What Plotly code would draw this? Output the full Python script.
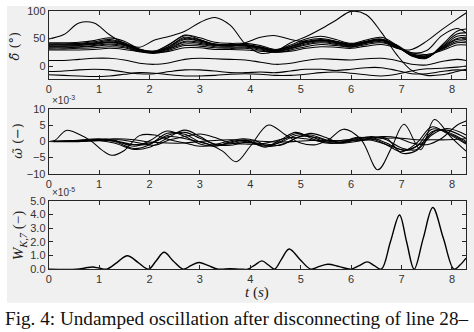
import plotly.graph_objects as go

# ---------------- rotor angle deviations (degrees) ----------------
t_delta = [0.0, 0.3, 0.6, 0.9, 1.2, 1.5, 1.8, 2.1, 2.4, 2.7, 3.0, 3.3, 3.6, 3.9, 4.2,
           4.5, 4.8, 5.1, 5.4, 5.7, 6.0, 6.3, 6.6, 6.9, 7.2, 7.5, 7.8, 8.1, 8.28]

delta_a = [49, 57, 78, 78, 57, 41, 34, 47, 54, 63, 79, 88, 74, 40, 23,
           27, 42, 53, 67, 83, 99, 93, 61, 21, -8, -17, -16, -10, -6]
delta_c = [38, 38, 39, 41, 44, 40, 30, 26, 36, 50, 46, 40, 38, 38, 34,
           29, 35, 43, 47, 43, 38, 44, 47, 32, 30, 45, 66, 85, 96]
delta_b1 = [42, 42, 43, 46, 51, 45, 31, 27, 39, 56, 51, 43, 41, 41, 37,
            30, 38, 49, 54, 48, 41, 47, 52, 38, 18, 14, 38, 63, 67]
delta_b2 = [40, 40, 40, 42, 46, 41, 29, 25, 36, 52, 47, 40, 39, 39, 35,
            29, 36, 46, 50, 45, 39, 45, 49, 37, 19, 15, 36, 58, 60]
delta_b3 = [38, 38, 38, 40, 43, 39, 28, 24, 34, 48, 45, 39, 38, 38, 34,
            28, 35, 44, 48, 44, 38, 44, 48, 37, 19, 16, 34, 54, 55]
delta_b4 = [36, 36, 37, 39, 42, 38, 28, 25, 33, 45, 43, 38, 37, 37, 33,
            27, 33, 42, 46, 42, 37, 43, 47, 36, 20, 16, 33, 50, 52]
delta_b5 = [35, 35, 35, 37, 40, 37, 28, 25, 32, 43, 41, 37, 36, 36, 32,
            27, 32, 40, 44, 41, 36, 42, 46, 35, 20, 17, 32, 48, 48]
delta_b6 = [33, 33, 34, 36, 38, 35, 27, 24, 31, 40, 39, 35, 34, 34, 31,
            26, 31, 38, 42, 39, 35, 41, 44, 35, 21, 18, 31, 45, 45]
delta_b7 = [31, 31, 32, 33, 35, 33, 26, 23, 29, 37, 36, 33, 32, 32, 29,
            25, 29, 35, 39, 37, 34, 39, 42, 34, 22, 19, 30, 42, 42]
delta_b8 = [29, 29, 29, 30, 32, 30, 26, 24, 27, 33, 33, 30, 30, 29, 27,
            25, 27, 32, 35, 34, 32, 36, 39, 33, 24, 21, 28, 38, 38]
delta_b9 = [40, 40, 41, 44, 48, 42, 30, 27, 40, 55, 48, 38, 36, 42, 52,
            55, 48, 44, 46, 44, 40, 44, 48, 38, 24, 28, 55, 68, 60]
delta_l1 = [10, 10, 12, 14, 14, 11, 5, 3, 6, 12, 14, 13, 12, 11, 7,
            3, 5, 10, 13, 12, 11, 13, 14, 10, 3, 2, 8, 12, 10]
delta_l2 = [-10, -9, -7, -6, -7, -11, -14, -14, -10, -7, -7, -9, -12, -12, -11,
            -12, -9, -6, -6, -8, -6, -3, -3, -8, -14, -14, -10, -7, -8]
delta_l3 = [-16, -17, -18, -19, -18, -15, -12, -13, -16, -18, -18, -17, -15, -14, -15,
            -17, -17, -15, -12, -11, -13, -16, -18, -15, -9, -5, -4, -2, 0]

delta_series = [delta_a, delta_c, delta_b1, delta_b2, delta_b3, delta_b4, delta_b5,
                delta_b6, delta_b7, delta_b8, delta_b9, delta_l1, delta_l2, delta_l3]

# ---------------- speed deviations (x 1e-3) ----------------
omega_t1 = [0, 0.12, 0.35, 0.6, 0.85, 1.05, 1.25, 1.5, 1.8, 2.1, 2.4, 2.7, 3.0, 3.3, 3.6,
            3.85, 4.1, 4.35, 4.7, 5.0, 5.3, 5.6, 5.9, 6.2, 6.5, 6.8, 7.1, 7.4, 7.7, 8.0, 8.28]
omega_v1 = [0, 0.3, 3.4, 2.2, 0, -2.6, -4.3, -2.8, 1.8, 2.0, 0.5, -0.5, -1.5, -1.0, 0.2,
            0.8, 0.3, -1.5, -0.5, 1.5, 1.2, 0, 0.5, 0.8, 0, -1.5, -2.8, -0.5, 3.5, 2.0, -0.5]

omega_t2 = [0, 0.8, 1.2, 1.6, 2.0, 2.4, 2.8, 3.2, 3.45, 3.72, 4.0, 4.36, 4.7, 5.0, 5.3,
            5.55, 5.85, 6.2, 6.53, 6.8, 7.05, 7.38, 7.65, 7.97, 8.28]
omega_v2 = [0, 0.2, 0.6, -1.0, -0.5, 1.5, 0.5, -1.0, -3.0, -6.3, -1.5, 5.1, 2.0, -0.5, -1.0,
            0.5, 3.8, 0.5, -8.8, -2.0, 5.3, -2.6, 6.8, 1.5, -3.0]

omega_t3 = [0, 0.5, 1.0, 1.3, 1.7, 2.0, 2.35, 2.7, 3.0, 3.3, 3.6, 3.9, 4.3, 4.6, 4.9,
            5.2, 5.5, 5.8, 6.1, 6.4, 6.7, 7.0, 7.3, 7.6, 7.9, 8.28]
omega_v3 = [0, 0.3, 0.8, 0.3, -1.5, 0.2, 3.2, 1.5, -0.8, -1.5, -0.2, 0.5, -1.5, 0.5, 2.8,
            1.0, -0.5, -0.3, 1.2, 0.8, -1.0, -3.2, -0.5, 4.5, 2.5, -0.8]
omega_v4 = [0, 0.2, 0.6, 0.0, -2.2, -1.0, 2.5, 2.2, -0.2, -1.2, -0.5, 0.3, -1.8, 0.0, 2.4,
            1.5, -0.2, -0.5, 1.0, 1.2, -0.5, -2.6, -1.5, 3.8, 3.0, 0.0]
omega_v5 = [0, 0.1, 0.4, 0.2, -1.0, -0.8, 1.8, 2.8, 1.0, -0.8, -0.8, 0.0, -1.2, -0.3, 1.8,
            2.0, 0.5, -0.5, 0.5, 1.5, 0.5, -2.0, -2.5, 3.0, 3.5, 1.0]
omega_v7 = [0, -0.1, 0.2, -0.5, -2.5, -1.8, 1.0, 3.5, 1.5, -1.0, -1.2, -0.3, -0.8, -1.2, 1.0,
            2.5, 1.2, -0.5, 0.0, 1.0, 1.0, -3.6, -2.8, 2.0, 4.0, 2.0]
omega_v8 = [0, 0.1, 0.5, 0.8, 0.5, -0.2, -0.5, -0.5, 0.0, 0.3, 0.5, 0.3, 0.0, -0.2, 0.0,
            0.3, 0.3, 0.2, 0.2, 0.5, 1.0, 1.0, 0.5, 0.5, 0.5, 0.8]

omega_t6 = [0, 0.5, 1.0, 1.4, 1.8, 2.1, 2.4, 2.7, 3.0, 3.3, 3.6, 3.9, 4.2, 4.5, 4.8,
            5.1, 5.4, 5.7, 6.0, 6.3, 6.6, 6.9, 7.2, 7.5, 7.8, 8.1, 8.28]
omega_v6 = [0, 0.0, 0.3, 0.5, -0.5, -1.2, 0.5, 1.5, 2.3, 1.2, -0.5, -0.8, -0.8, 0.2, 1.2,
            0.8, 0.0, -0.2, 0.2, 0.8, 1.5, 1.2, -0.5, -1.0, 1.0, 5.0, 6.3]

omega_series = [(omega_t1, omega_v1), (omega_t2, omega_v2), (omega_t3, omega_v3),
                (omega_t3, omega_v4), (omega_t3, omega_v5), (omega_t6, omega_v6),
                (omega_t3, omega_v7), (omega_t3, omega_v8)]

# ---------------- oscillation energy W_K,7 (x 1e-5) ----------------
w_t = [0, 0.55, 0.72, 0.87, 1.0, 1.15, 1.36, 1.56, 1.77, 1.98, 2.13, 2.29, 2.47, 2.67,
       2.82, 2.98, 3.17, 3.36, 3.6, 3.8, 3.95, 4.09, 4.23, 4.36, 4.48, 4.62, 4.77, 4.98,
       5.2, 5.37, 5.54, 5.77, 6.0, 6.16, 6.32, 6.46, 6.6, 6.78, 6.96, 7.1, 7.25, 7.43,
       7.62, 7.83, 8.04, 8.16, 8.28]
w_v = [0, 0, 0.08, 0.16, 0.08, 0, 0.5, 0.98, 0.5, 0, 0.6, 1.23, 0.6, 0,
       0.25, 0.49, 0.25, 0, 0.03, 0, 0, 0.3, 0.6, 0.3, 0, 0.73, 1.47, 0.73,
       0, 0.2, 0.36, 0.18, 0, 0.26, 0.53, 0.26, 0, 2.0, 3.96, 2.0, 0, 2.25,
       4.5, 2.25, 0, 0.3, 0.8]

x_ticks = [0, 1, 2, 3, 4, 5, 6, 7, 8]

W, H = 474, 332
AX_COLOR = "#262626"
SANS = "Liberation Sans, Arial, sans-serif"
TICK_FONT = dict(family=SANS, size=11, color="#333333")
SERIF = "Liberation Serif, Times New Roman, serif"
LABEL_FONT = dict(family="DejaVu Serif, serif", size=13, color="#222")


def ypos(py):
    return 1 - py / H


line_style = dict(color="black", width=1.05, shape="spline", smoothing=1.0)

fig = go.Figure()
for ys in delta_series:
    fig.add_trace(go.Scatter(x=t_delta, y=ys, mode="lines", line=line_style,
                             xaxis="x", yaxis="y", hoverinfo="skip", showlegend=False))
for ts, ys in omega_series:
    fig.add_trace(go.Scatter(x=ts, y=ys, mode="lines", line=line_style,
                             xaxis="x2", yaxis="y2", hoverinfo="skip", showlegend=False))
fig.add_trace(go.Scatter(x=w_t, y=w_v, mode="lines", line=dict(line_style, width=1.4),
                         xaxis="x3", yaxis="y3", hoverinfo="skip", showlegend=False))

axis_common = dict(showline=True, mirror="ticks", linecolor=AX_COLOR, linewidth=1,
                   ticks="inside", ticklen=4, tickcolor=AX_COLOR, tickwidth=1,
                   showgrid=False, zeroline=False, tickfont=TICK_FONT, fixedrange=True)
xdom = [46 / W, 466 / W]

fig.update_layout(
    width=W, height=H,
    margin=dict(l=0, r=0, t=0, b=0),
    paper_bgcolor="white", plot_bgcolor="white",
    xaxis=dict(axis_common, domain=xdom, range=[0, 8.28], tickvals=x_ticks, anchor="y"),
    yaxis=dict(axis_common, domain=[ypos(76), ypos(5)], range=[-24, 100],
               tickvals=[0, 50, 100], anchor="x"),
    xaxis2=dict(axis_common, domain=xdom, range=[0, 8.28], tickvals=x_ticks, anchor="y2"),
    yaxis2=dict(axis_common, domain=[ypos(174), ypos(107)], range=[-10, 10],
                tickvals=[-10, -5, 0, 5, 10], anchor="x2"),
    xaxis3=dict(axis_common, domain=xdom, range=[0, 8.28], tickvals=x_ticks, anchor="y3"),
    yaxis3=dict(axis_common, domain=[ypos(273), ypos(202)], range=[0, 5],
                tickvals=[0, 1, 2, 3, 4, 5], tickformat=".1f", anchor="x3"),
    shapes=[dict(type="rect", xref="paper", yref="paper", x0=4 / W, x1=1,
                 y0=ypos(308), y1=1, fillcolor="#f0f0f0", line=dict(width=0),
                 layer="below")],
)

annotations = [
    dict(text="<i>δ̃</i> (°)", x=12 / W, y=ypos(41), textangle=-90, font=LABEL_FONT),
    dict(text="<i>ω̃</i> (−)", x=15 / W, y=ypos(140), textangle=-90, font=LABEL_FONT),
    dict(text="<i>W</i><sub><i>K,7</i></sub> (−)", x=17 / W, y=ypos(238), textangle=-90,
         font=dict(family=SERIF, size=15, color="#222")),
    dict(text="<i>t</i> (<i>s</i>)", x=256 / W, y=ypos(297),
         font=dict(family=SERIF, size=15, color="#222")),
    dict(text="×10<sup>-3</sup>", x=47 / W, y=ypos(106), xanchor="left", yanchor="bottom",
         font=dict(family=SANS, size=10, color="#333")),
    dict(text="×10<sup>-5</sup>", x=47 / W, y=ypos(201), xanchor="left", yanchor="bottom",
         font=dict(family=SANS, size=10, color="#333")),
    dict(text="Fig. 4: Undamped oscillation after disconnecting of line 28–",
         x=0, y=ypos(311), xanchor="left", yanchor="top",
         font=dict(family=SERIF, size=19.2, color="#111")),
]
for a in annotations:
    a.setdefault("xanchor", "center")
    a.setdefault("yanchor", "middle")
    fig.add_annotation(xref="paper", yref="paper", showarrow=False, **a)

fig.write_html("out.html")
